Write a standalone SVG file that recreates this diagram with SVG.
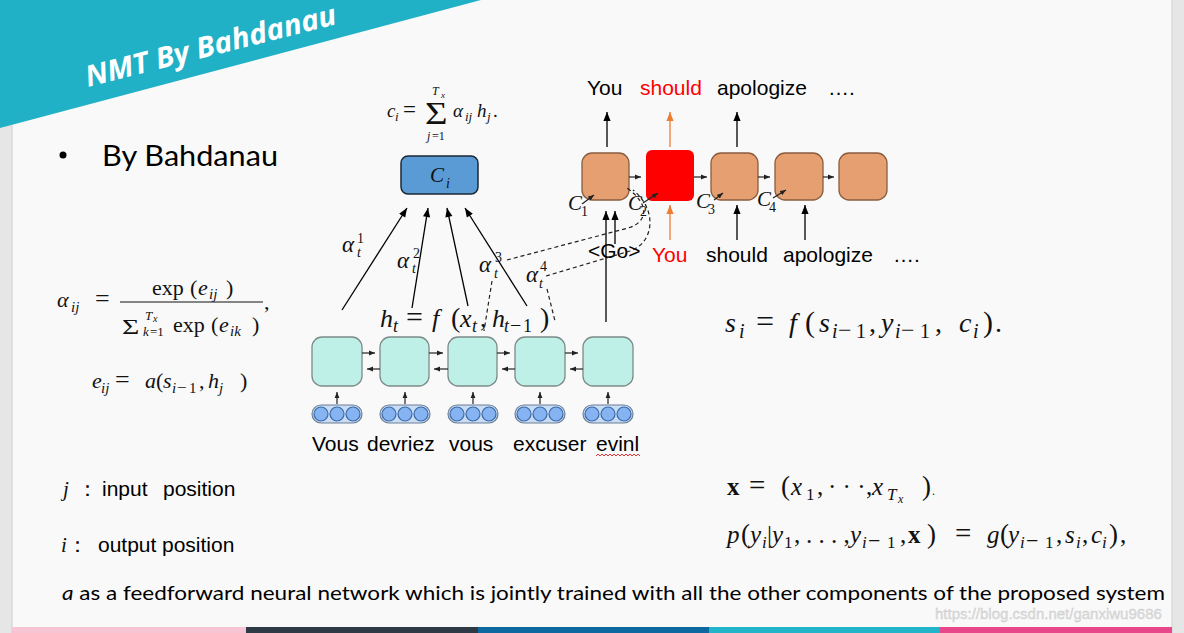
<svg xmlns="http://www.w3.org/2000/svg" width="1184" height="633" viewBox="0 0 1184 633">
<defs>
<style>
.m{font-family:"Liberation Serif","DejaVu Serif",serif;font-style:italic;fill:#111}
.u{font-style:normal}
.bd{font-style:normal;font-weight:bold}
.s{font-family:"Liberation Sans",Arial,sans-serif;fill:#000}
.enc{fill:#bff0e8;stroke:#7c8a88;stroke-width:1.3}
.dec{fill:#e69f71;stroke:#8a5c3e;stroke-width:1.3}
.oval{fill:#c9dcf5;stroke:#6b7f96;stroke-width:1.2}
.dot{fill:#86b4f2;stroke:#3b6aa8;stroke-width:1.2}
.ln{stroke:#000;stroke-width:1.3;fill:none}
.sm{stroke:#222;stroke-width:1.2;fill:none}
.or{stroke:#ed7d31;stroke-width:1.3;fill:none}
.dash{stroke:#222;stroke-width:1.2;fill:none;stroke-dasharray:4 3}
</style>
<marker id="ah" viewBox="0 0 10 10" refX="10" refY="5" markerWidth="10" markerHeight="9" markerUnits="userSpaceOnUse" orient="auto"><path d="M0,1 L10,5 L0,9 z" fill="#000"/></marker>
<marker id="ahs" viewBox="0 0 10 10" refX="10" refY="5" markerWidth="6" markerHeight="6" markerUnits="userSpaceOnUse" orient="auto"><path d="M0,1 L10,5 L0,9 z" fill="#222"/></marker>
<marker id="aho" viewBox="0 0 10 10" refX="10" refY="5" markerWidth="10" markerHeight="9" markerUnits="userSpaceOnUse" orient="auto"><path d="M0,1 L10,5 L0,9 z" fill="#ed7d31"/></marker>
</defs>

<rect x="0" y="0" width="1184" height="633" fill="#f9f9f9"/>
<rect x="0" y="0" width="12" height="633" fill="#e6e6e6"/>
<line x1="12" y1="0" x2="12" y2="633" stroke="#cfcfcf" stroke-width="1"/>
<rect x="1172" y="0" width="12" height="633" fill="#e6e6e6"/>
<line x1="1172" y1="0" x2="1172" y2="633" stroke="#cfcfcf" stroke-width="1"/>

<!-- bottom stripes -->
<rect x="12" y="627" width="234" height="6" fill="#f7c4d4"/>
<rect x="246" y="627" width="232" height="6" fill="#2e3a45"/>
<rect x="478" y="627" width="231" height="6" fill="#0d67a1"/>
<rect x="709" y="627" width="231" height="6" fill="#22b4c9"/>
<rect x="940" y="627" width="232" height="6" fill="#e8488a"/>

<!-- banner -->
<g id="banner">
<polygon points="0,0 481,0 0,128" fill="#21b1c6"/>
<text x="88" y="87" transform="rotate(-14.2 88 87)" font-family="'Open Sans','Liberation Sans',sans-serif" font-weight="700" font-style="italic" font-size="29" fill="#fff" textLength="258" lengthAdjust="spacingAndGlyphs">NMT By Bahdanau</text>
</g>

<g id="bullet">
<circle cx="63" cy="155" r="3.5" fill="#000"/>
<text x="102" y="166" font-family="Lato,'Liberation Sans',sans-serif" font-size="29" fill="#000" textLength="176" lengthAdjust="spacingAndGlyphs">By Bahdanau</text>
</g>

<!-- c_i formula -->
<g id="ci-formula" class="m">
<text font-size="19"><tspan x="387" y="117">c</tspan><tspan x="395" y="121" font-size="13">i</tspan><tspan class="u" x="403" y="117" font-size="23">=</tspan><tspan x="453" y="117">α</tspan><tspan x="465" y="121" font-size="13">ij</tspan><tspan x="477" y="117">h</tspan><tspan x="487" y="121" font-size="13">j</tspan><tspan class="u" x="493" y="117">.</tspan></text>
<text class="u" transform="translate(425,124) scale(1.25,1.05)" x="0" y="0" font-size="31">Σ</text>
<text font-size="12"><tspan x="432" y="95">T</tspan><tspan x="441" y="98" font-size="9">x</tspan><tspan x="427" y="140">j</tspan><tspan class="u" x="432" y="140">=1</tspan></text>
</g>

<g id="ci-box">
<rect x="401" y="156" width="77" height="38" rx="7" fill="#5b9bd5" stroke="#1c2835" stroke-width="1.5"/>
<text class="m" x="430" y="182" font-size="21">C</text>
<text class="m" x="446" y="188" font-size="14">i</text>
</g>

<!-- decoder -->
<g id="dec1"><rect class="dec" x="582" y="153" width="47" height="47" rx="10"/></g>
<g id="dec2"><rect x="646" y="150" width="48" height="51" rx="6" fill="#ff0000"/></g>
<g id="dec3"><rect class="dec" x="711" y="153" width="47" height="47" rx="10"/></g>
<g id="dec4"><rect class="dec" x="775" y="153" width="48" height="47" rx="10"/></g>
<g id="dec5"><rect class="dec" x="839" y="153" width="48" height="47" rx="10"/></g>

<g id="dec-labels" class="s" font-size="21">
<text x="587" y="95">You</text>
<text x="640" y="95" fill="#ff0000">should</text>
<text x="717" y="95">apologize</text>
<text x="828" y="95">….</text>
<text x="588" y="258">&lt;Go&gt;</text>
<text x="652" y="262" fill="#ff0000">You</text>
<text x="706" y="262">should</text>
<text x="783" y="262">apologize</text>
<text x="893" y="262">….</text>
</g>

<g id="c-labels" class="m">
<text x="568" y="210" font-size="21">C</text><text x="581" y="216" font-size="14" class="m u">1</text>
<text x="628" y="210" font-size="21">C</text><text x="640" y="216" font-size="14" class="m u">2</text>
<text x="696" y="208" font-size="21">C</text><text x="708" y="214" font-size="14" class="m u">3</text>
<text x="757" y="206" font-size="21">C</text><text x="769" y="212" font-size="14" class="m u">4</text>
</g>

<!-- encoder -->
<g id="enc1"><rect class="enc" x="312" y="337" width="50" height="49" rx="10"/><rect class="oval" x="312" y="405" width="50" height="18" rx="9"/><circle class="dot" cx="321" cy="414" r="7"/><circle class="dot" cx="337" cy="414" r="7"/><circle class="dot" cx="353" cy="414" r="7"/></g>
<g id="enc2"><rect class="enc" x="380" y="337" width="49" height="49" rx="10"/><rect class="oval" x="380" y="405" width="50" height="18" rx="9"/><circle class="dot" cx="389" cy="414" r="7"/><circle class="dot" cx="405" cy="414" r="7"/><circle class="dot" cx="421" cy="414" r="7"/></g>
<g id="enc3"><rect class="enc" x="448" y="337" width="49" height="49" rx="10"/><rect class="oval" x="448" y="405" width="50" height="18" rx="9"/><circle class="dot" cx="457" cy="414" r="7"/><circle class="dot" cx="473" cy="414" r="7"/><circle class="dot" cx="489" cy="414" r="7"/></g>
<g id="enc4"><rect class="enc" x="515" y="337" width="50" height="49" rx="10"/><rect class="oval" x="515" y="405" width="50" height="18" rx="9"/><circle class="dot" cx="524" cy="414" r="7"/><circle class="dot" cx="540" cy="414" r="7"/><circle class="dot" cx="556" cy="414" r="7"/></g>
<g id="enc5"><rect class="enc" x="583" y="337" width="50" height="49" rx="10"/><rect class="oval" x="583" y="405" width="50" height="18" rx="9"/><circle class="dot" cx="592" cy="414" r="7"/><circle class="dot" cx="608" cy="414" r="7"/><circle class="dot" cx="624" cy="414" r="7"/></g>

<g id="enc-labels" class="s" font-size="21">
<text x="312" y="451">Vous</text>
<text x="367" y="451">devriez</text>
<text x="449" y="451">vous</text>
<text x="513" y="451">excuser</text>
<text x="596" y="451">evinl</text>
</g>
<path d="M596,456 l2,-2 l2,2 l2,-2 l2,2 l2,-2 l2,2 l2,-2 l2,2 l2,-2 l2,2 l2,-2 l2,2 l2,-2 l2,2 l2,-2 l2,2 l2,-2 l2,2 l2,-2 l2,2 l2,-2 l2,2" fill="none" stroke="#e00000" stroke-width="0.8"/>

<!-- h_t formula -->
<g id="ht-formula" class="m">
<text font-size="26"><tspan x="380" y="327">h</tspan><tspan x="393" y="332" font-size="18">t</tspan><tspan class="u" x="406" y="327" font-size="30">=</tspan><tspan x="432" y="327">f</tspan><tspan class="u" x="451" y="327" font-size="28">(</tspan><tspan x="460" y="327">x</tspan><tspan x="472" y="332" font-size="18">t</tspan><tspan class="u" x="480" y="327">,</tspan><tspan x="492" y="327">h</tspan><tspan x="504" y="332" font-size="18">t</tspan><tspan class="u" x="510" y="332" font-size="20">−</tspan><tspan class="u" x="523" y="332" font-size="18">1</tspan><tspan class="u" x="540" y="327" font-size="28">)</tspan></text>
</g>

<!-- alpha labels -->
<g id="alphas" class="m">
<text x="342" y="252" font-size="23">α</text><text x="357" y="243" font-size="14" class="m u">1</text><text x="357" y="257" font-size="14">t</text>
<text x="397" y="268" font-size="23">α</text><text x="413" y="258" font-size="14" class="m u">2</text><text x="412" y="273" font-size="14">t</text>
<text x="479" y="272" font-size="23">α</text><text x="495" y="262" font-size="14" class="m u">3</text><text x="494" y="278" font-size="14">t</text>
<text x="526" y="282" font-size="23">α</text><text x="540" y="271" font-size="14" class="m u">4</text><text x="539" y="288" font-size="14">t</text>
</g>

<!-- left formulas -->
<g id="alpha-formula" class="m">
<text font-size="22"><tspan x="57" y="307">α</tspan><tspan x="71" y="312" font-size="15">ij</tspan><tspan class="u" x="95" y="307" font-size="26">=</tspan></text>
<text font-size="22"><tspan class="u" x="152" y="295">exp</tspan><tspan class="u" x="190" y="295">(</tspan><tspan x="198" y="295">e</tspan><tspan x="209" y="299" font-size="15">ij</tspan><tspan class="u" x="226" y="295">)</tspan></text>
<line x1="120" y1="302" x2="263" y2="302" stroke="#111" stroke-width="1"/>
<text class="u" transform="translate(122,334) scale(1.35,1)" x="0" y="0" font-size="22">Σ</text>
<text font-size="22"><tspan x="145" y="320" font-size="13">T</tspan><tspan x="153" y="322" font-size="10">x</tspan><tspan x="143" y="336" font-size="13">k</tspan><tspan class="u" x="150" y="336" font-size="13">=1</tspan><tspan class="u" x="173" y="332">exp</tspan><tspan class="u" x="211" y="332">(</tspan><tspan x="219" y="332">e</tspan><tspan x="230" y="336" font-size="15">ik</tspan><tspan class="u" x="252" y="332">)</tspan></text>
<text class="u" x="264" y="309" font-size="22">,</text>
<text font-size="22"><tspan x="92" y="388">e</tspan><tspan x="101" y="393" font-size="15">ij</tspan><tspan class="u" x="115" y="388" font-size="26">=</tspan><tspan x="145" y="388">a</tspan><tspan class="u" x="156" y="388">(</tspan><tspan x="163" y="388">s</tspan><tspan x="172" y="393" font-size="15">i</tspan><tspan class="u" x="177" y="393" font-size="17">−</tspan><tspan class="u" x="189" y="393" font-size="15">1</tspan><tspan class="u" x="199" y="388">,</tspan><tspan x="208" y="388">h</tspan><tspan x="219" y="393" font-size="15">j</tspan><tspan class="u" x="240" y="388">)</tspan></text>
</g>

<!-- right formulas -->
<g id="s-formula" class="m">
<text font-size="28"><tspan x="725" y="332">s</tspan><tspan x="739" y="338" font-size="20">i</tspan><tspan class="u" x="756" y="332" font-size="32">=</tspan><tspan x="789" y="332">f</tspan><tspan class="u" x="805" y="332" font-size="30">(</tspan><tspan x="819" y="332">s</tspan><tspan x="832" y="338" font-size="20">i</tspan><tspan class="u" x="838" y="338" font-size="24">−</tspan><tspan class="u" x="856" y="338" font-size="20">1</tspan><tspan class="u" x="869" y="332">,</tspan><tspan x="881" y="332">y</tspan><tspan x="895" y="338" font-size="20">i</tspan><tspan class="u" x="901" y="338" font-size="24">−</tspan><tspan class="u" x="920" y="338" font-size="20">1</tspan><tspan class="u" x="935" y="332">,</tspan><tspan x="959" y="332">c</tspan><tspan x="973" y="338" font-size="20">i</tspan><tspan class="u" x="983" y="332" font-size="30">)</tspan><tspan class="u" x="995" y="332">.</tspan></text>
</g>

<g id="x-formula" class="m">
<text font-size="25"><tspan class="bd" x="727" y="495">x</tspan><tspan class="u" x="749" y="495" font-size="29">=</tspan><tspan class="u" x="781" y="495" font-size="27">(</tspan><tspan x="791" y="495">x</tspan><tspan class="u" x="806" y="500" font-size="17">1</tspan><tspan class="u" x="817" y="495">,</tspan><tspan class="u" x="828" y="495">· · ·</tspan><tspan class="u" x="866" y="495">,</tspan><tspan x="872" y="495">x</tspan><tspan x="887" y="500" font-size="17">T</tspan><tspan x="898" y="503" font-size="12">x</tspan><tspan class="u" x="922" y="495" font-size="27">)</tspan><tspan class="u" x="932" y="495" font-size="12">.</tspan></text>
</g>

<g id="p-formula" class="m">
<text font-size="25"><tspan x="727" y="543">p</tspan><tspan class="u" x="741" y="543" font-size="27">(</tspan><tspan x="750" y="543">y</tspan><tspan x="762" y="548" font-size="17">i</tspan><tspan class="u" x="767" y="543">|</tspan><tspan x="772" y="543">y</tspan><tspan class="u" x="784" y="548" font-size="17">1</tspan><tspan class="u" x="794" y="543">,</tspan><tspan class="u" x="806" y="543">. . . ,</tspan><tspan x="850" y="543">y</tspan><tspan x="862" y="548" font-size="17">i</tspan><tspan class="u" x="868" y="548" font-size="22">−</tspan><tspan class="u" x="887" y="548" font-size="17">1</tspan><tspan class="u" x="900" y="543">,</tspan><tspan class="bd" x="908" y="543">x</tspan><tspan class="u" x="927" y="543" font-size="27">)</tspan><tspan class="u" x="955" y="543" font-size="29">=</tspan><tspan x="987" y="543">g</tspan><tspan class="u" x="1000" y="543" font-size="27">(</tspan><tspan x="1008" y="543">y</tspan><tspan x="1020" y="548" font-size="17">i</tspan><tspan class="u" x="1026" y="548" font-size="22">−</tspan><tspan class="u" x="1045" y="548" font-size="17">1</tspan><tspan class="u" x="1056" y="543">,</tspan><tspan x="1065" y="543">s</tspan><tspan x="1076" y="548" font-size="17">i</tspan><tspan class="u" x="1082" y="543">,</tspan><tspan x="1091" y="543">c</tspan><tspan x="1102" y="548" font-size="17">i</tspan><tspan class="u" x="1109" y="543" font-size="27">)</tspan><tspan class="u" x="1120" y="543">,</tspan></text>
</g>

<!-- left labels -->
<g id="labels">
<text font-size="21" class="s" font-family="'Liberation Sans','Noto Sans CJK SC',sans-serif"><tspan class="m" x="63" y="496">j</tspan><tspan x="77" y="496">：</tspan><tspan x="102" y="496">input</tspan><tspan x="163" y="496">position</tspan></text>
<text font-size="21" class="s" font-family="'Liberation Sans','Noto Sans CJK SC',sans-serif"><tspan class="m" x="61" y="552">i</tspan><tspan x="67" y="552">：</tspan><tspan x="98" y="552">output</tspan><tspan x="162" y="552">position</tspan></text>
<text x="62" y="600" font-family="Lato,'Liberation Sans',sans-serif" font-size="20" fill="#000" textLength="1103" lengthAdjust="spacingAndGlyphs"><tspan font-style="italic">a</tspan> as a feedforward neural network which is jointly trained with all the other components of the proposed system</text>
<text x="935" y="619" font-family="'Liberation Sans',Arial,sans-serif" font-size="15" fill="#dcdcdc" stroke="#c8c8c8" stroke-width="0.3">https://blog.csdn.net/ganxiwu9686</text>
</g>

<!-- connectors -->
<g id="connectors">
<line class="ln" x1="342" y1="310" x2="407" y2="208" marker-end="url(#ah)"/>
<line class="ln" x1="412" y1="308" x2="428" y2="208" marker-end="url(#ah)"/>
<line class="ln" x1="468" y1="306" x2="447" y2="208" marker-end="url(#ah)"/>
<line class="ln" x1="527" y1="306" x2="465" y2="208" marker-end="url(#ah)"/>
<path class="dash" d="M507,260 L628,228 C646,223 652,206 627,188"/>
<path class="dash" d="M546,276 L630,251 C654,243 658,210 633,190"/>
<line class="dash" x1="492" y1="281" x2="484" y2="331"/>
<line class="dash" x1="547" y1="289" x2="555" y2="321"/>
<line class="ln" x1="607" y1="147" x2="607" y2="112" marker-end="url(#ah)"/>
<line class="or" x1="670" y1="147" x2="670" y2="112" marker-end="url(#aho)"/>
<line class="ln" x1="737" y1="147" x2="737" y2="112" marker-end="url(#ah)"/>
<line class="ln" x1="606" y1="322" x2="606" y2="211" marker-end="url(#ah)"/>
<line class="ln" x1="615" y1="244" x2="615" y2="211" marker-end="url(#ah)"/>
<line class="or" x1="670" y1="240" x2="670" y2="205" marker-end="url(#aho)"/>
<line class="ln" x1="737" y1="240" x2="737" y2="205" marker-end="url(#ah)"/>
<line class="ln" x1="805" y1="240" x2="805" y2="205" marker-end="url(#ah)"/>
<line class="sm" x1="582" y1="204" x2="594" y2="195" marker-end="url(#ahs)"/>
<line class="sm" x1="643" y1="203" x2="658" y2="193" marker-end="url(#ahs)"/>
<line class="sm" x1="714" y1="200" x2="723" y2="193" marker-end="url(#ahs)"/>
<line class="sm" x1="773" y1="198" x2="786" y2="190" marker-end="url(#ahs)"/>
<line class="sm" x1="629" y1="177" x2="641" y2="177" marker-end="url(#ahs)"/>
<line class="sm" x1="694" y1="177" x2="707" y2="177" marker-end="url(#ahs)"/>
<line class="sm" x1="758" y1="177" x2="770" y2="177" marker-end="url(#ahs)"/>
<line class="sm" x1="823" y1="177" x2="834" y2="177" marker-end="url(#ahs)"/>
<line class="sm" x1="362" y1="353" x2="375" y2="353" marker-end="url(#ahs)"/>
<line class="sm" x1="380" y1="369" x2="367" y2="369" marker-end="url(#ahs)"/>
<line class="sm" x1="429" y1="353" x2="443" y2="353" marker-end="url(#ahs)"/>
<line class="sm" x1="448" y1="369" x2="434" y2="369" marker-end="url(#ahs)"/>
<line class="sm" x1="497" y1="353" x2="510" y2="353" marker-end="url(#ahs)"/>
<line class="sm" x1="515" y1="369" x2="502" y2="369" marker-end="url(#ahs)"/>
<line class="sm" x1="565" y1="353" x2="578" y2="353" marker-end="url(#ahs)"/>
<line class="sm" x1="583" y1="369" x2="570" y2="369" marker-end="url(#ahs)"/>
<line class="sm" x1="337" y1="404" x2="337" y2="392" marker-end="url(#ahs)"/>
<line class="sm" x1="405" y1="404" x2="405" y2="392" marker-end="url(#ahs)"/>
<line class="sm" x1="473" y1="404" x2="473" y2="392" marker-end="url(#ahs)"/>
<line class="sm" x1="540" y1="404" x2="540" y2="392" marker-end="url(#ahs)"/>
<line class="sm" x1="608" y1="404" x2="608" y2="392" marker-end="url(#ahs)"/>
</g>
</svg>
